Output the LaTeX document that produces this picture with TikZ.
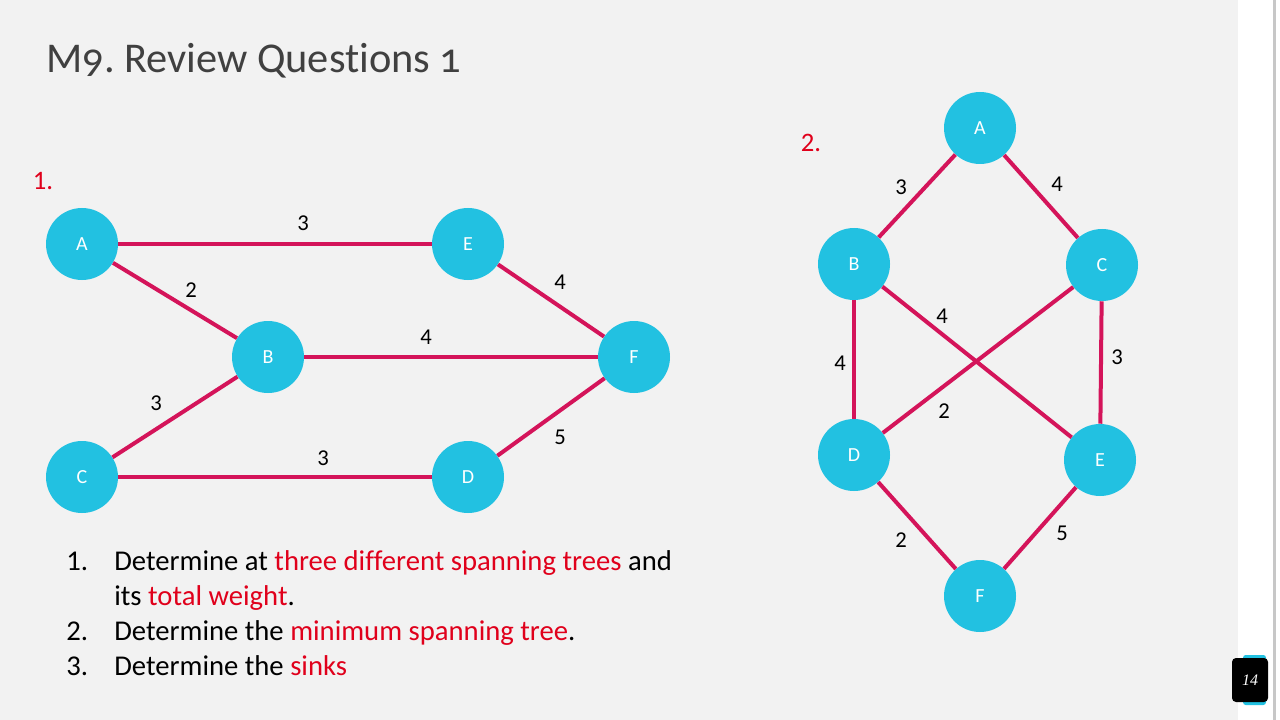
\documentclass[tikz,border=0pt]{standalone}
\usepackage{fontspec}
\setmainfont[Ligatures=NoCommon]{Carlito}
\newfontfamily\titlefont[Numbers=OldStyle, Ligatures=NoCommon]{Carlito}
\newfontfamily\pagefont{Liberation Serif}
\usepackage{xcolor}
\definecolor{slidebg}{HTML}{F2F2F2}
\definecolor{vtx}{HTML}{22C1E1}
\definecolor{edg}{HTML}{D4145A}
\definecolor{hl}{HTML}{E0001B}
\definecolor{ttl}{HTML}{404040}
\frenchspacing

\begin{document}
\begin{tikzpicture}[
        x=0.75pt, y=-0.75pt,
        vertex/.style={circle, fill=vtx, draw=none, minimum size=54pt, inner sep=0pt, text=white, font=\fontsize{15}{15}\selectfont},
        edge/.style={draw=edg, line width=3pt},
        wt/.style={font=\fontsize{17}{17}\selectfont, text=black, inner sep=0pt},
        qnum/.style={font=\fontsize{20}{20}\selectfont, text=hl, inner sep=0pt},
        item/.style={anchor=base west, inner sep=0pt, font=\fontsize{21.5}{24}\selectfont}
    ]
        % slide background
        \fill[slidebg] (0,0) rectangle (1238,720);
        \fill[white] (1238,0) rectangle (1280,720);
        \fill[black!22] (1273,0) rectangle (1276,720);
        \useasboundingbox (0,0) rectangle (1280,720);

        \node[anchor=base west, inner sep=0pt, text=ttl, font=\titlefont\fontsize{31.8}{32}\selectfont] (title) at (46,73) {M9. Review Questions 1};

        % graph 1
        \node[qnum] (q1) at (43,181) {1.};
        \node[vertex] (a1) at (82,244) {A};
        \node[vertex] (e1) at (468,244) {E};
        \node[vertex] (b1) at (268,357) {B};
        \node[vertex] (f1) at (634,357) {F};
        \node[vertex] (c1) at (82,477) {C};
        \node[vertex] (d1) at (468,477) {D};

        \draw[edge] (a1) -- (e1);
        \draw[edge] (a1) -- (b1);
        \draw[edge] (e1) -- (f1);
        \draw[edge] (b1) -- (f1);
        \draw[edge] (b1) -- (c1);
        \draw[edge] (c1) -- (d1);
        \draw[edge] (d1) -- (f1);

        \node[wt] at (303,223) {3};
        \node[wt] at (191,290) {2};
        \node[wt] at (560,282) {4};
        \node[wt] at (426,337) {4};
        \node[wt] at (156,403) {3};
        \node[wt] at (323,458) {3};
        \node[wt] at (560,437) {5};

        % graph 2
        \node[qnum] (q2) at (811,143) {2.};
        \node[vertex] (a2) at (980,128) {A};
        \node[vertex] (b2) at (854,264) {B};
        \node[vertex] (c2) at (1102,265) {C};
        \node[vertex] (d2) at (854,455) {D};
        \node[vertex] (e2) at (1100,460) {E};
        \node[vertex] (f2) at (980,596) {F};

        \draw[edge] (a2) -- (b2);
        \draw[edge] (a2) -- (c2);
        \draw[edge] (b2) -- (d2);
        \draw[edge] (b2) -- (e2);
        \draw[edge] (c2) -- (d2);
        \draw[edge] (c2) -- (e2);
        \draw[edge] (d2) -- (f2);
        \draw[edge] (e2) -- (f2);

        \node[wt] at (901,187) {3};
        \node[wt] at (1057,184) {4};
        \node[wt] at (942,316) {4};
        \node[wt] at (840,363) {4};
        \node[wt] at (1117,357) {3};
        \node[wt] at (944,411) {2};
        \node[wt] at (901,540) {2};
        \node[wt] at (1062,533) {5};

        % questions
        \node[item] (n1) at (66,570) {1.};
        \node[item] (t1) at (114,570) {Determine at \textcolor{hl}{three different spanning trees} and};
        \node[item] (t1b) at (114,605) {its \textcolor{hl}{total weight}.};
        \node[item] (n2) at (66,640) {2.};
        \node[item] (t2) at (114,640) {Determine the \textcolor{hl}{minimum spanning tree}.};
        \node[item] (n3) at (66,675) {3.};
        \node[item] (t3) at (114,675) {Determine the \textcolor{hl}{sinks}};

        % page number
        \fill[vtx, rounded corners=2pt] (1243,655) rectangle (1266,705);
        \node[fill=black, rounded corners=3pt, minimum width=27pt, minimum height=33pt, inner sep=0pt, text=white, font=\pagefont\itshape\fontsize{12}{12}\selectfont] (pg) at (1250,680) {14};
    \end{tikzpicture}
\end{document}
